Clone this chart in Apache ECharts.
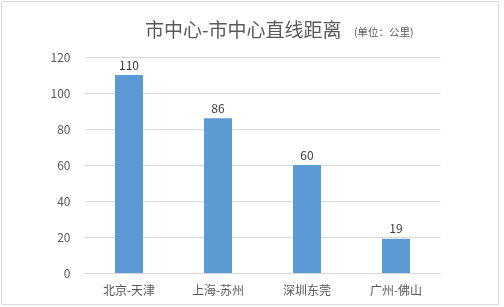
<!DOCTYPE html>
<html><head><meta charset="utf-8">
<script src="https://cdn.jsdelivr.net/npm/echarts@6/dist/echarts.min.js"></script>
<style>html,body{margin:0;padding:0;background:#fff;}#c{width:504px;height:307px;}</style>
</head><body><div id="c"></div>
<script>
const categories = ['北京-天津', '上海-苏州', '深圳东莞', '广州-佛山'];
const distances = [110, 86, 60, 19];
const yTicks = [0, 20, 40, 60, 80, 100, 120];

const chart = echarts.init(document.getElementById('c'), null, {renderer: 'canvas'});
const F = '"Microsoft YaHei","Noto Sans CJK SC",sans-serif';
chart.setOption({
  animation: false,
  backgroundColor: '#fff',
  graphic: [{
    type: 'rect', shape: {x: 1.5, y: 1.5, width: 497, height: 303},
    style: {fill: 'none', stroke: '#d9d9d9', lineWidth: 1}
  }, {
    type: 'text', left: 145, top: 20,
    style: {text: '市中心-市中心直线距离', font: '19px ' + F, fill: '#595959'}
  }, {
    type: 'text', left: 354, top: 27,
    style: {text: '(单位：公里)', font: '10.5px ' + F, fill: '#595959'}
  }],
  grid: {left: 84.5, right: 63.5, top: 57, bottom: 34},
  xAxis: {
    type: 'category', data: categories,
    axisLine: {lineStyle: {color: '#d9d9d9'}},
    axisTick: {show: false},
    axisLabel: {color: '#595959', fontSize: 12, fontFamily: F, margin: 11}
  },
  yAxis: {
    type: 'value', min: yTicks[0], max: yTicks[yTicks.length - 1], interval: 20,
    axisLine: {show: false}, axisTick: {show: false},
    axisLabel: {color: '#595959', fontSize: 12, fontFamily: F, margin: 14},
    splitLine: {lineStyle: {color: '#d9d9d9'}}
  },
  series: [{
    type: 'bar', data: distances, barWidth: 28,
    itemStyle: {color: '#5b9bd5'},
    label: {show: true, position: 'top', color: '#404040', fontSize: 12, fontFamily: F, distance: 4}
  }]
});
</script></body></html>
